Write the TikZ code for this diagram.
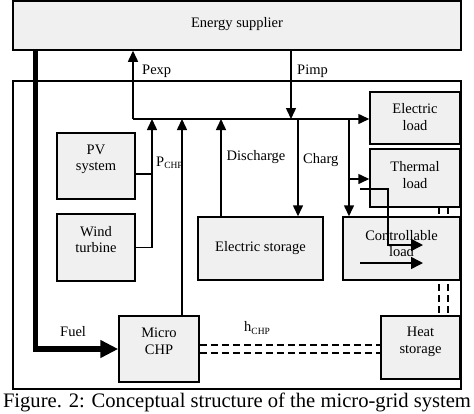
\documentclass[tikz,border=0pt]{standalone}
\usepackage{fontspec}
\setmainfont{Liberation Serif}
\usetikzlibrary{arrows.meta}
\begin{document}
\begin{tikzpicture}[x=1pt,y=-1pt,
  box/.style={draw,line width=1.5pt,fill=black!6,align=center,inner sep=0pt,
    font=\fontsize{14.5}{16.5}\selectfont},
  lbl/.style={inner sep=0pt,font=\fontsize{14.5}{16.5}\selectfont},
  ln/.style={line width=1.5pt},
  arr/.style={line width=1.5pt,-{Triangle[length=11pt,width=10pt]}},
  sarr/.style={line width=1.5pt,-{Triangle[length=12pt,width=12pt]}},
  fuel/.style={line width=5.5pt,-{Triangle[length=18pt,width=17pt]}},
  heat/.style={line width=1.5pt,dash pattern=on 7pt off 4pt}]
\useasboundingbox (0,0) rectangle (474,413);
% frames
\node[box,minimum width=448pt,minimum height=49pt,text depth=7pt] (es) at (237,25.5) {Energy supplier};
\node[draw,line width=1.5pt,minimum width=448pt,minimum height=308pt,inner sep=0pt] (mg) at (237,235) {};
% boxes
\node[box,minimum width=90pt,minimum height=52pt,text depth=2pt] (el) at (415,118) {Electric\\load};
\node[box,minimum width=90pt,minimum height=58pt,text depth=6pt] (tl) at (415,178) {Thermal\\load};
% heat link behind controllable load
\coordinate (h1) at (439,207);
\coordinate (h2) at (448,207);
\node[box,minimum width=79pt,minimum height=63pt,text depth=15pt] (hs) at (420.5,347.5) {Heat\\storage};
\draw[heat] (h1) -- (h1 |- hs.north);
\draw[heat] (h2) -- (h2 |- hs.north);
\node[box,minimum width=117pt,minimum height=63pt,text depth=10pt] (cl) at (401.5,248.5) {Controllable\\load};
\node[box,minimum width=125pt,minimum height=63pt] (est) at (260.5,248.5) {Electric storage};
\node[box,minimum width=80pt,minimum height=66pt,text depth=16pt] (chp) at (159,349) {Micro\\CHP};
\node[box,minimum width=78pt,minimum height=66pt,text depth=17pt] (pv) at (96,166) {PV\\system};
\node[box,minimum width=78pt,minimum height=67pt,text depth=16pt] (wt) at (96,247.5) {Wind\\turbine};
% bus and junctions
\coordinate (busw) at (133,119);
\coordinate (j1) at (152,119);
\coordinate (j2) at (182,119);
\coordinate (j3) at (221,119);
\coordinate (pimp) at (291,119);
\coordinate (j4) at (298,119);
\coordinate (j5) at (349,119);
\coordinate (j6) at (349,179);
\draw[arr] (busw) -- (busw |- es.south);
\draw[arr] (busw) -- (busw -| el.west);
\draw[arr] (pimp |- es.south) -- (pimp);
\draw[arr] (wt.east) -| (j1);
\draw[ln] ([yshift=-8pt]pv.east) -- (j1 |- 0,174);
\draw[arr] (chp.north -| j2) -- (j2);
\draw[arr] (est.north -| j3) -- (j3);
\draw[arr] (j4) -- (j4 |- est.north);
\draw[arr] (j5) -- (j5 |- cl.north);
\draw[arr] (j6) -- (j6 -| tl.west);
% arrows inside controllable load
\coordinate (c1) at (360,189);
\coordinate (c2) at (423,245);
\coordinate (c3) at (360,263);
\coordinate (c4) at (423,263);
\draw[sarr] (c1) -- (388,189) |- (c2);
\draw[sarr] (c3) -- (c4);
% fuel
\coordinate (fx) at (35.5,50);
\draw[fuel] (fx) |- (chp.west);
% heat from CHP
\draw[heat] ([yshift=4pt]chp.east) -- ([yshift=4pt]chp.east -| hs.west);
\draw[heat] ([yshift=-4pt]chp.east) -- ([yshift=-4pt]chp.east -| hs.west);
% labels
\node[lbl,anchor=west] (lpexp) at (142,71) {Pexp};
\node[lbl,anchor=west] (lpimp) at (297,71) {Pimp};
\node[lbl,anchor=west] (lpchp) at (156,163) {P\raisebox{-0.35ex}{\fontsize{9.5}{10}\selectfont CHP}};
\node[lbl] (ldis) at (256,157) {Discharge};
\node[lbl,anchor=west] (lchg) at (303,160) {Charg};
\node[lbl,anchor=west] (lhchp) at (244,328) {h\raisebox{-0.35ex}{\fontsize{9.5}{10}\selectfont CHP}};
\node[lbl,anchor=west] (lfuel) at (60,332) {Fuel};
\node[inner sep=0pt,anchor=base,font=\fontsize{20.6}{24}\selectfont] (cap) at (237,407) {Figure. 2: Conceptual structure of the micro-grid system};
\end{tikzpicture}
\end{document}
